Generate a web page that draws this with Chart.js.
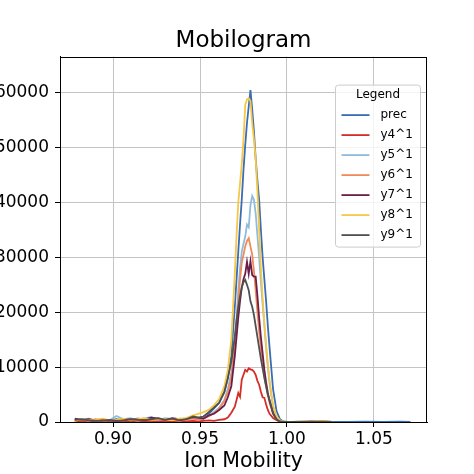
<!DOCTYPE html>
<html><head><meta charset="utf-8">
<style>html,body{margin:0;padding:0;background:#fff;overflow:hidden}canvas{display:block}</style>
<script src="https://cdn.jsdelivr.net/npm/chart.js@4.4.1/dist/chart.umd.min.js"></script>
</head><body><canvas id="c" width="474" height="474"></canvas>
<script>
const ionMobility = [0.878,0.882,0.886,0.890,0.894,0.898,0.902,0.906,0.910,0.914,0.918,0.922,0.926,0.930,0.934,0.938,0.942,0.946,
  0.949,0.952,0.955,0.958,0.961,0.964,0.966,0.968,
  0.970,0.971,0.972,0.973,0.974,0.975,0.976,0.977,0.978,0.979,0.980,0.981,0.982,0.983,0.984,0.985,0.986,0.987,0.988,0.989,0.990,
  0.992,0.994,0.996,0.998,1.000,1.003,
  1.008,1.014,1.020,1.026,
  1.035,1.045,1.055,1.065,1.071];

const prec = [300,200,100,400,200,300,500,300,200,400,300,600,400,300,500,400,600,700,
  700,1000,1500,2500,3500,5500,8000,12000,
  21000,26000,31000,36000,40500,46000,50500,54500,57500,60500,57000,53000,48000,44000,40500,35000,30000,26000,22000,17500,13500,
  6000,2000,500,100,0,0,
  50,0,100,0,
  0,50,0,50,0];
const y4 = [100,0,200,100,0,100,200,100,0,100,200,100,0,200,100,0,100,200,
  100,200,300,200,400,500,800,1700,
  2800,4000,5300,4600,7700,8600,9500,9200,9800,9600,9500,9200,8600,7500,6800,5500,4500,4400,3200,2200,1500,
  700,350,100,0,0,0,
  0,0,0,0];
const y5 = [500,300,600,200,400,300,1100,500,700,300,600,900,400,700,500,300,600,800,
  600,800,1200,1800,2600,4000,6000,9000,
  15000,19000,24000,28000,31000,32500,33800,36000,35500,39500,41200,40500,38000,34000,30000,25500,21500,17500,13500,10000,7000,
  2800,800,200,50,0,0,
  0,100,0,0];
const y6 = [300,400,200,500,300,200,400,300,500,200,400,300,500,300,400,200,500,600,
  400,700,1000,1600,2400,3800,5500,8000,
  14000,18000,22000,26000,29000,30500,32000,33000,33500,32000,30500,27500,24000,20000,16500,13500,11000,8500,6500,4800,3500,
  1500,400,100,0,0,0,
  0,0,100,0];
const y7 = [600,400,500,300,400,200,300,500,400,600,500,800,600,400,700,500,600,900,
  800,600,1200,1500,2200,3000,4500,6500,
  12000,15500,19000,22000,24500,26000,27000,29200,27000,29300,26800,26500,26500,23000,19000,15500,12500,9500,7200,5300,3800,
  1600,500,100,0,0,0,
  0,100,0,0];
const y8 = [200,500,300,400,600,300,400,600,300,500,700,400,600,500,300,600,700,1200,
  1500,1800,2200,3000,4200,6500,9500,15000,
  27000,34000,40000,43500,47000,51500,57800,58800,59000,58500,54500,51500,48000,42000,35000,28000,22500,18000,14000,10500,7500,
  3000,1000,300,100,0,0,
  100,50,200,0];
const y9 = [400,500,300,200,300,400,200,300,500,400,300,500,700,400,600,300,500,1000,
  800,1000,1800,2600,3500,5500,8000,11000,
  15500,18500,21000,23000,24500,25500,25900,25000,24000,22000,21000,19500,17500,15500,13500,11500,9800,8000,6500,5000,4000,
  1600,500,100,0,0,0,
  0,0,50,0];

const seriesNames = ['prec','y4^1','y5^1','y6^1','y7^1','y8^1','y9^1'];
const seriesColors = ['#3a6db3','#d42d27','#8fbcdc','#f08a5a','#6b1e4a','#f7c845','#505050'];
const xTicks = [0.90,0.95,1.00,1.05];
const yTicks = [0,10000,20000,30000,40000,50000,60000];

const seriesValues = [prec,y4,y5,y6,y7,y8,y9];
const datasets = seriesNames.map((name,i)=>({
  label:name,
  data: ionMobility.map((x,j)=>({x:x, y:seriesValues[i][j]})).filter(p=>p.y!==undefined && p.y!==null),
  borderColor: seriesColors[i], backgroundColor: seriesColors[i],
  borderWidth: 1.8, pointRadius:0, tension:0, fill:false,
  order: seriesNames.length-1-i
}));

const framePlugin = {id:'frame', afterDraw(chart){
  const ctx=chart.ctx, a=chart.chartArea;
  ctx.save(); ctx.strokeStyle='#000'; ctx.lineWidth=1;
  ctx.strokeRect(Math.round(a.left)+0.5, Math.round(a.top)+0.5, Math.round(a.right-a.left)-1, Math.round(a.bottom-a.top));
  ctx.restore();
}};
const legendPlugin = {id:'boxLegend', afterDraw(chart){
  const ctx=chart.ctx, a=chart.chartArea;
  const w=85, h=162, x0=a.right-92+0.5, y0=a.top+28+0.5;
  ctx.save();
  ctx.beginPath(); ctx.roundRect(x0,y0,w,h,3);
  ctx.fillStyle='rgba(255,255,255,0.8)'; ctx.fill();
  ctx.strokeStyle='#cccccc'; ctx.lineWidth=1; ctx.stroke();
  ctx.font='12px "DejaVu Sans"'; ctx.fillStyle='#000'; ctx.textBaseline='middle';
  ctx.textAlign='center'; ctx.fillText('Legend', x0+w/2, y0+10);
  chart.data.datasets.forEach((ds,i)=>{
    const y=y0+30+20*i;
    ctx.strokeStyle=ds.borderColor; ctx.lineWidth=1.8;
    ctx.beginPath(); ctx.moveTo(x0+6,y); ctx.lineTo(x0+34,y); ctx.stroke();
    ctx.textAlign='left'; ctx.fillStyle='#000'; ctx.fillText(ds.label, x0+45, y);
  });
  ctx.restore();
}};

const gridColor = '#c4c4c4';
new Chart(document.getElementById('c'), {
  type:'line',
  data:{datasets:datasets},
  plugins:[framePlugin, legendPlugin],
  options:{
    responsive:false, animation:false, devicePixelRatio:1,
    layout:{padding:{left:0,right:47,top:0,bottom:0}},
    plugins:{
      legend:{display:false}, tooltip:{enabled:false},
      title:{display:true, text:'Mobilogram', fullSize:false, color:'#000',
        font:{family:'DejaVu Sans', size:23, weight:'normal'}, padding:{top:27, bottom:2}}
    },
    scales:{
      x:{type:'linear', min:0.8695, max:1.0805,
        afterBuildTicks:s=>{s.ticks=xTicks.map(v=>({value:v}));},
        afterFit:s=>{s.height=52;},
        ticks:{callback:v=>Number(v).toFixed(2), color:'#000', font:{family:'DejaVu Sans', size:17}, padding:2, maxRotation:0, autoSkip:false},
        grid:{color:gridColor, lineWidth:1, drawTicks:true, tickLength:5, tickColor:'#000'},
        border:{display:true, color:'#000', width:1},
        title:{display:true, text:'Ion Mobility', color:'#000', font:{family:'DejaVu Sans', size:20.5}, padding:{top:0,bottom:0}}
      },
      y:{type:'linear', min:0, max:66600,
        afterBuildTicks:s=>{s.ticks=yTicks.map(v=>({value:v}));},
        afterFit:s=>{s.width=60;},
        ticks:{callback:v=>String(v), color:'#000', font:{family:'DejaVu Sans', size:17}, padding:6, autoSkip:false},
        grid:{color:gridColor, lineWidth:1, drawTicks:true, tickLength:5, tickColor:'#000'},
        border:{display:true, color:'#000', width:1}
      }
    }
  }
});
</script></body></html>
